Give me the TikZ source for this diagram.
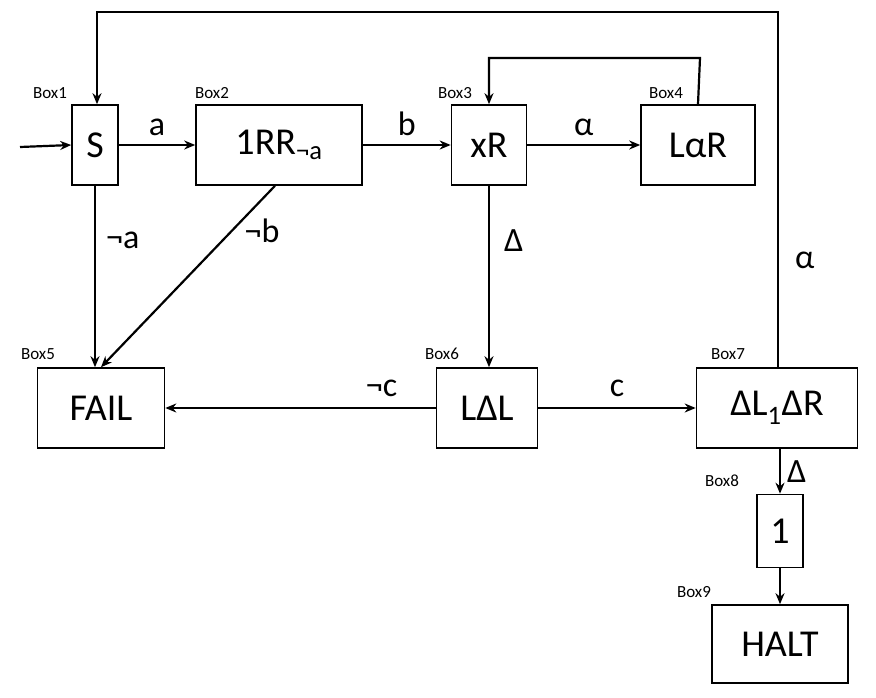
\documentclass[tikz,border=0pt]{standalone}
\usepackage{fontspec}
\setmainfont{Carlito}
\usetikzlibrary{arrows.meta}
\begin{document}
\begin{tikzpicture}[x=1pt,y=-1pt,
  box/.style={draw,line width=1.6pt,inner sep=0pt,font=\fontsize{38}{40}\selectfont},
  tag/.style={font=\fontsize{17}{18}\selectfont,inner sep=0pt},
  lab/.style={font=\fontsize{34}{36}\selectfont,inner sep=0pt},
  arr/.style={line width=2.2pt,-{Stealth[length=11pt,width=9pt]}}]
\useasboundingbox (0,0) rectangle (876,698);
\node[box,minimum width=46pt,minimum height=80pt] (s) at (95,145) {S};
\node[box,minimum width=166pt,minimum height=80pt] (b2) at (279,145) {1RR\textsubscript{¬a}};
\node[box,minimum width=75pt,minimum height=80pt] (x) at (489,145) {xR};
\node[box,minimum width=114pt,minimum height=80pt] (l) at (698,145) {LαR};
\node[box,minimum width=127pt,minimum height=80pt] (f) at (101,408) {FAIL};
\node[box,minimum width=101pt,minimum height=80pt] (ld) at (487,408) {LΔL};
\node[box,minimum width=161pt,minimum height=80pt] (d) at (777,408) {ΔL\textsubscript{1}ΔR};
\node[box,minimum width=46pt,minimum height=73pt] (o) at (780,531) {1};
\node[box,minimum width=136pt,minimum height=78pt] (h) at (780,644) {HALT};
\node[tag] at (50,93) {Box1};
\node[tag] at (212,93) {Box2};
\node[tag] at (455,93) {Box3};
\node[tag] at (666,93) {Box4};
\node[tag] at (38,354) {Box5};
\node[tag] at (442,354) {Box6};
\node[tag] at (728,354) {Box7};
\node[tag] at (722,481) {Box8};
\node[tag] at (694,592) {Box9};
\coordinate (in) at (20,147);
\coordinate (t1) at (700,58);
\coordinate (t2) at (489,58);
\coordinate (u1) at (778,12);
\coordinate (u2) at (97,12);
\draw[arr] (in) -- (s.west);
\draw[arr] (s) -- node[lab,above=8pt] {a} (b2);
\draw[arr] (b2) -- node[lab,above=8pt] {b} (x);
\draw[arr] (x) -- node[lab,above=8pt] {α} (l);
\draw[arr] (l.north) -- (t1) -- (t2) -- (x.north);
\draw[arr] (s.south) -- node[lab,right=10pt,pos=0.3] {¬a} (s.south |- f.north);
\draw[arr] ([xshift=-4pt]b2.south) -- node[lab,right=12pt,pos=0.25] {¬b} ([xshift=0pt]f.north);
\draw[arr] (x.south) -- node[lab,right=14pt,pos=0.3] {Δ} (x.south |- ld.north);
\draw[arr] (ld) -- node[lab,above=10pt,pos=0.2] {¬c} (f);
\draw[arr] (ld) -- node[lab,above=10pt] {c} (d);
\draw[arr] (d.north -| u1) -- node[lab,right=16pt,pos=0.3] {α} (u1) -- (u2) -- (s.north -| u2);
\draw[arr] (d.south -| o) -- node[lab,right=6pt] {Δ} (o.north);
\draw[arr] (o) -- (h);
\end{tikzpicture}
\end{document}
